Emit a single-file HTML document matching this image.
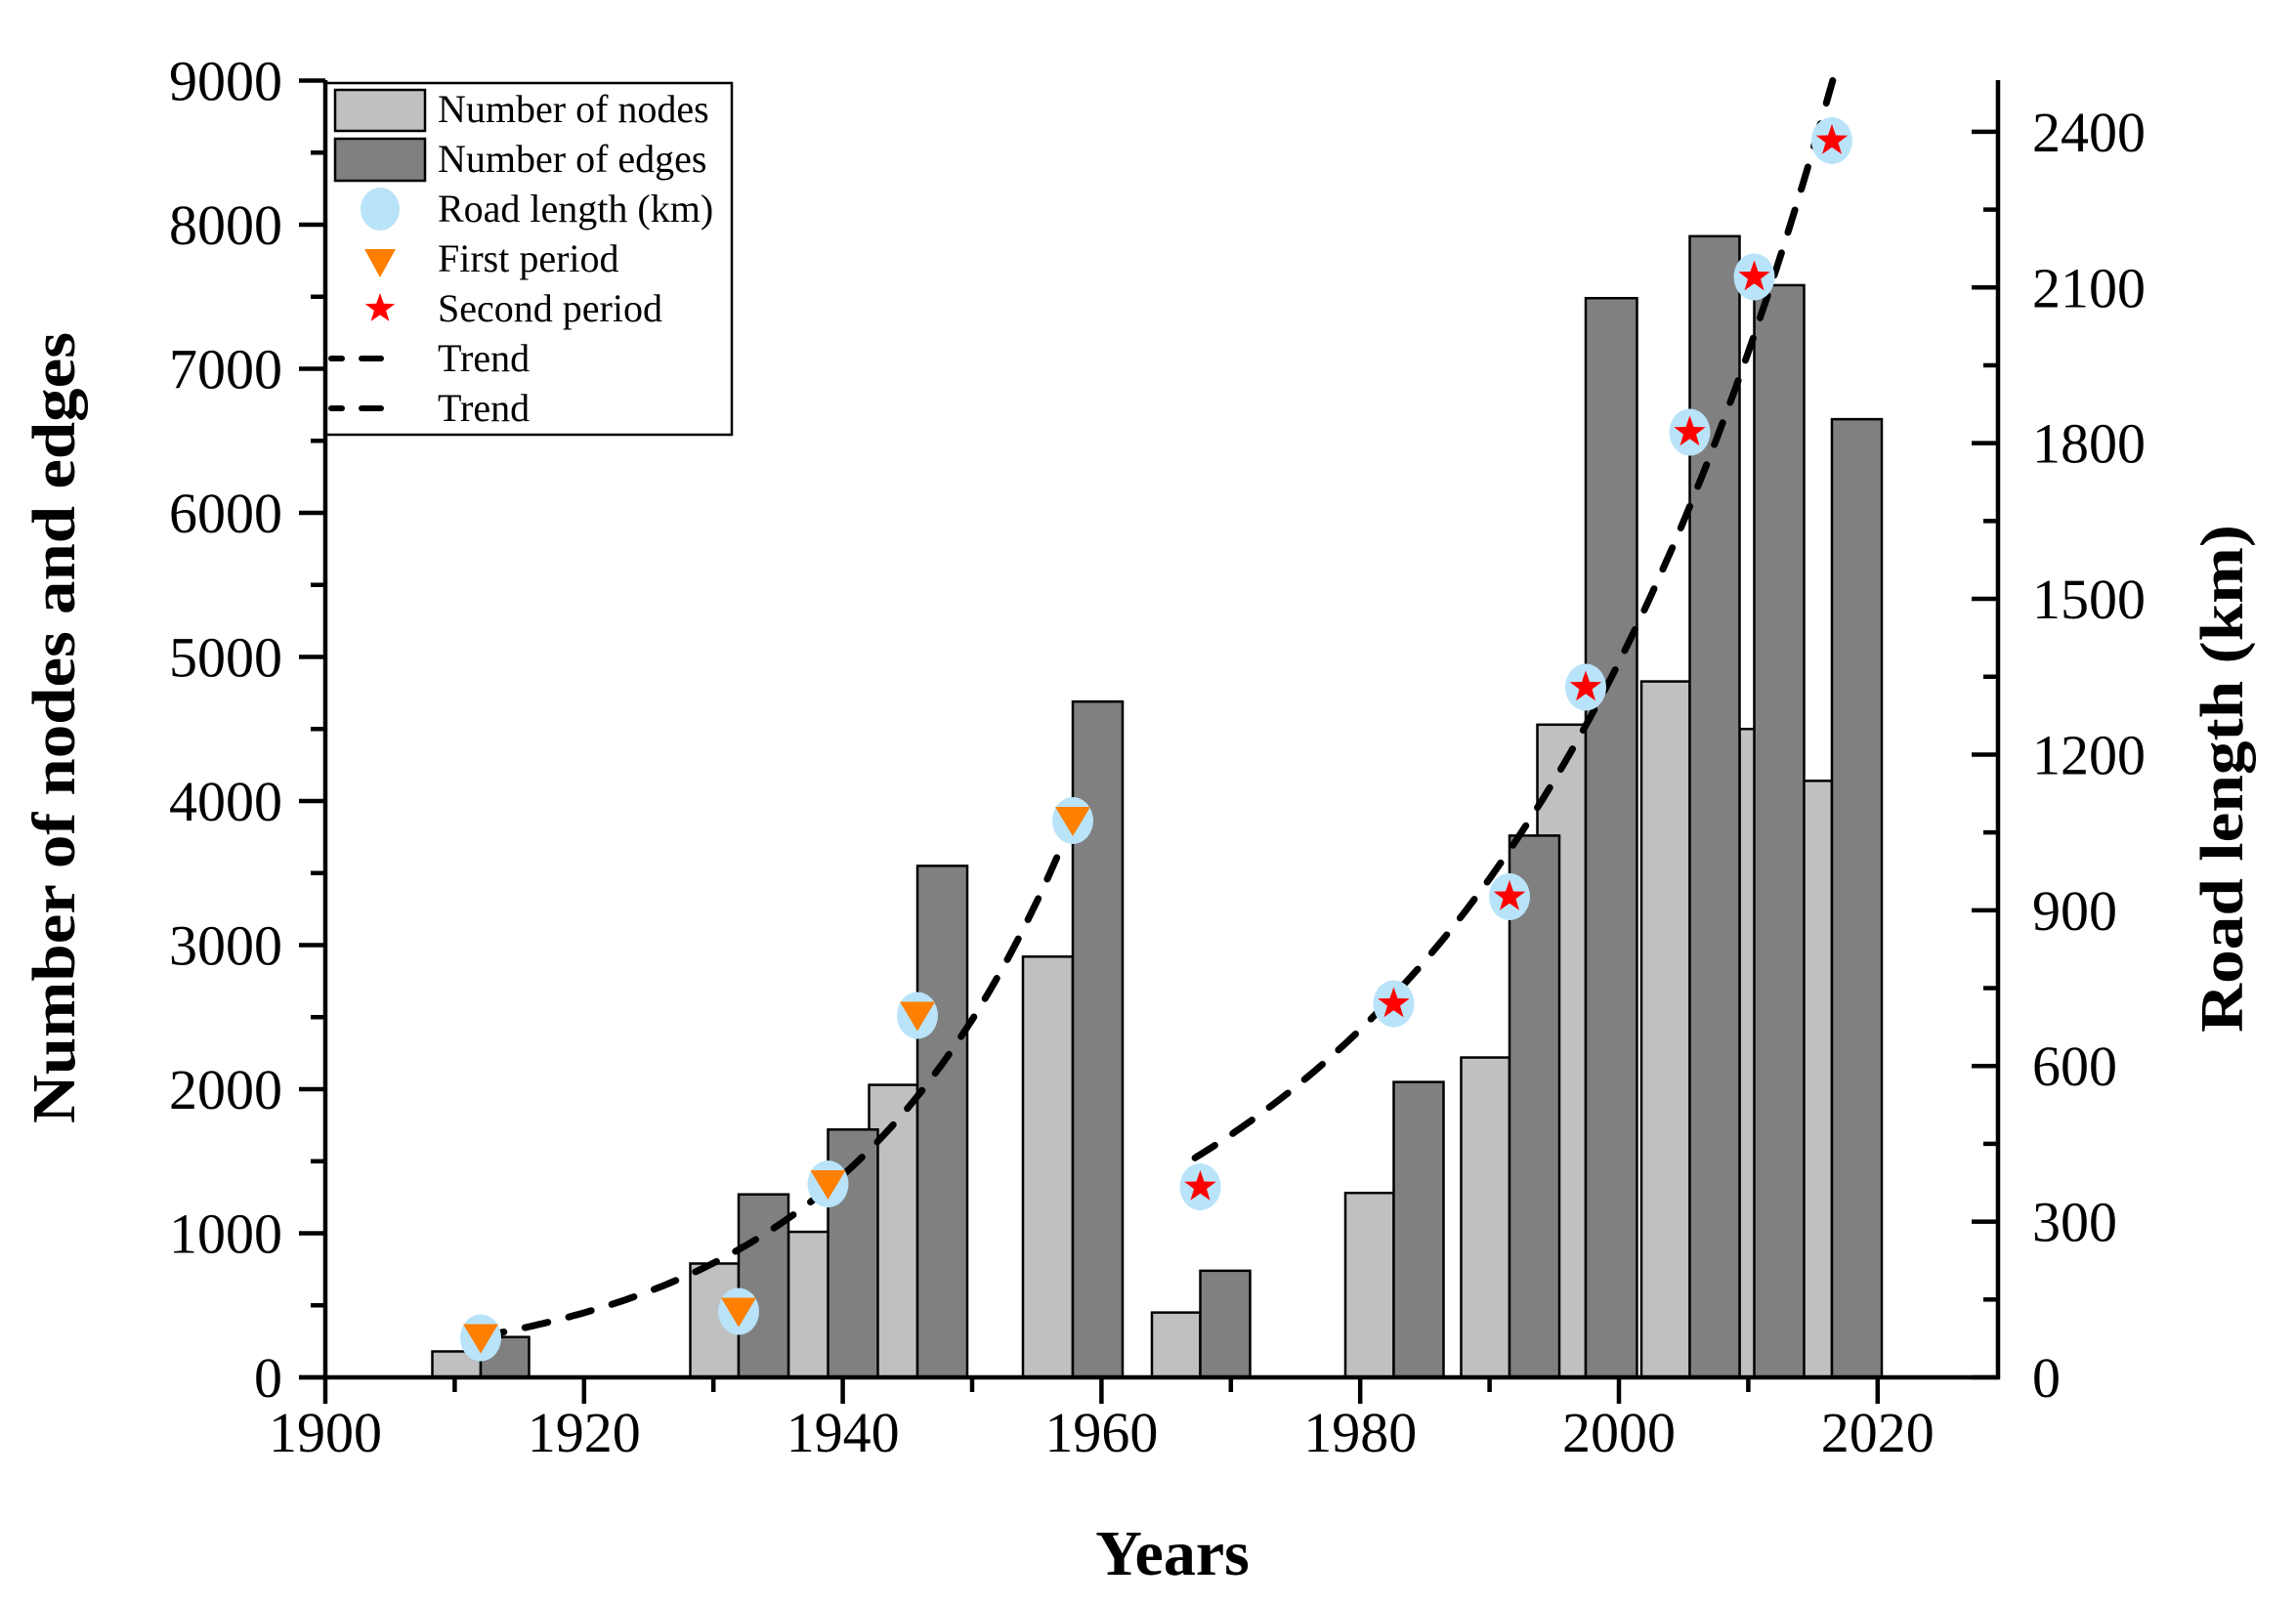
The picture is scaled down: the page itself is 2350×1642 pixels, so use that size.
<!DOCTYPE html>
<html><head><meta charset="utf-8"><style>
html,body{margin:0;padding:0;background:#fff}
svg{display:block}
text{font-family:"Liberation Serif",serif;fill:#000}
</style></head><body>
<svg id="s" width="2350" height="1642" viewBox="0 0 2350 1642" xmlns="http://www.w3.org/2000/svg"></svg>
<script>
const S=1.5, NS="http://www.w3.org/2000/svg", svg=document.getElementById('s');
function el(t,a,txt){const e=document.createElementNS(NS,t);for(const k in a)e.setAttribute(k,a[k]);if(txt!==undefined)e.textContent=txt;svg.appendChild(e);return e;}
const X0=333,X1=2045,Y0=1410,YT=82;
const xy=y=>336+13.24*(y-1900);
const yv=v=>Y0-0.1475*v;
const yk=k=>Y0-0.5313*k;
const nodes=[[295,328,180],[471,504,790],[538,571,1010],[593,626,2030],[698,732,2920],[786,819,450],[918,951,1280],[997,1030,2220],[1049,1082,4530],[1120,1153,4830],[1187,1220,4500],[1217,1250,4140]];
const edges=[[328,361,280],[504,538,1270],[565,599,1720],[626,660,3550],[732,766,4690],[819,853,740],[951,985,2050],[1030,1064,3760],[1082,1117,7490],[1153,1187,7920],[1197,1231,7580],[1250,1284,6650]];
for(const [a,b,h] of nodes) el('rect',{x:a*S,y:yv(h),width:(b-a)*S,height:Y0-yv(h),fill:'#c0c0c0',stroke:'#000','stroke-width':2.5});
for(const [a,b,h] of edges) el('rect',{x:a*S,y:yv(h),width:(b-a)*S,height:Y0-yv(h),fill:'#808080',stroke:'#000','stroke-width':2.5});
function trend(y1,y2,v1,k){let d='';for(let t=y1;t<=y2+1e-9;t+=0.25){const x=xy(t),y=yk(v1*Math.exp(k*(t-y1)));d+=(d?'L':'M')+x.toFixed(1)+' '+y.toFixed(1);}
 el('path',{d:d,fill:'none',stroke:'#000','stroke-width':7,'stroke-dasharray':'24 22','stroke-linecap':'round'});}
trend(1911.8,1958.2,79,0.05705);
trend(1967,2016.5,423,0.03603);
function circ(x,y){el('ellipse',{cx:x*S,cy:y*S,rx:21,ry:24,fill:'#b9e3f9'});}
function tri(x,y){x*=S;y*=S;el('polygon',{points:`${x-18},${y-14} ${x+18},${y-14} ${x},${y+16}`,fill:'#ff7f00'});}
function star(x,y,r){x*=S;y*=S;r=r||17;let p=[];for(let i=0;i<10;i++){const a=-Math.PI/2+i*Math.PI/5,rr=i%2?r*0.4:r;p.push((x+rr*Math.cos(a)).toFixed(1)+','+(y+rr*Math.sin(a)).toFixed(1));}el('polygon',{points:p.join(' '),fill:'#ff0000'});}
[[328,913],[504,895],[565,808],[626,693],[732,560]].forEach(([x,y])=>{circ(x,y);tri(x,y);});
[[819,810],[951,685],[1030,612],[1082,469],[1153,295],[1197,189],[1250,96]].forEach(([x,y])=>{circ(x,y);star(x,y);});
const lw=4.5;
el('line',{x1:X0,y1:YT,x2:X0,y2:Y0+2,stroke:'#000','stroke-width':lw});
el('line',{x1:X1,y1:YT,x2:X1,y2:Y0+2,stroke:'#000','stroke-width':lw});
el('line',{x1:X0-27,y1:Y0,x2:X1+2,y2:Y0,stroke:'#000','stroke-width':lw});
for(let v=0;v<=9000;v+=500){const y=yv(v),L=v%1000?15:27;el('line',{x1:X0-L,y1:y,x2:X0,y2:y,stroke:'#000','stroke-width':lw});
 if(v%1000==0)el('text',{x:289,y:y+20,'font-size':58,'text-anchor':'end'},String(v));}
for(let k=0;k<=2550;k+=150){const y=yk(k);if(y<YT)break;const L=k%300?15:27;el('line',{x1:X1-L,y1:y,x2:X1,y2:y,stroke:'#000','stroke-width':lw});
 if(k%300==0)el('text',{x:2080,y:y+20,'font-size':58},String(k));}
for(let t=1900;t<=2020;t+=10){const x=xy(t)-3,L=t%20?15:27;el('line',{x1:x,y1:Y0,x2:x,y2:Y0+L,stroke:'#000','stroke-width':lw});
 if(t%20==0)el('text',{x:x,y:1486,'font-size':58,'text-anchor':'middle'},String(t));}
el('text',{x:1200,y:1612,'font-size':66,'font-weight':'bold','text-anchor':'middle'},'Years');
el('text',{transform:'translate(76,745) rotate(-90)','font-size':62,'font-weight':'bold','text-anchor':'middle',textLength:810,lengthAdjust:'spacingAndGlyphs'},'Number of nodes and edges');
el('text',{transform:'translate(2295,797) rotate(-90)','font-size':62,'font-weight':'bold','text-anchor':'middle',textLength:520,lengthAdjust:'spacingAndGlyphs'},'Road length (km)');
el('rect',{x:334,y:85,width:415,height:360,fill:'#fff',stroke:'#000','stroke-width':2.5});
const rows=[112,163,214,265,316,367,418];
el('rect',{x:343,y:92,width:92,height:42,fill:'#c0c0c0',stroke:'#000','stroke-width':2.5});
el('rect',{x:343,y:142,width:92,height:43,fill:'#808080',stroke:'#000','stroke-width':2.5});
el('ellipse',{cx:389,cy:214,rx:20,ry:22,fill:'#b9e3f9'});
el('polygon',{points:'373,255 405,255 389,284',fill:'#ff7f00'});
star(389/S,316/S,16);
[367,418].forEach(y=>{el('line',{x1:339,y1:y,x2:350,y2:y,stroke:'#000','stroke-width':6,'stroke-linecap':'round'});el('line',{x1:370,y1:y,x2:390,y2:y,stroke:'#000','stroke-width':6,'stroke-linecap':'round'});});
const labs=['Number of nodes','Number of edges','Road length (km)','First period','Second period','Trend','Trend'];
labs.forEach((l,i)=>el('text',{x:448,y:rows[i]+13,'font-size':40},l));
</script>
</body></html>
